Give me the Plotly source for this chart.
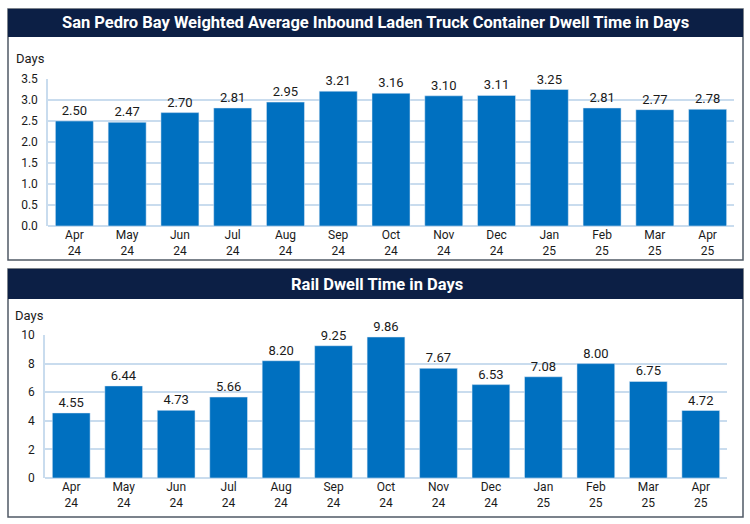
import plotly.graph_objects as go

months = ["Apr<br>24", "May<br>24", "Jun<br>24", "Jul<br>24", "Aug<br>24", "Sep<br>24",
          "Oct<br>24", "Nov<br>24", "Dec<br>24", "Jan<br>25", "Feb<br>25", "Mar<br>25", "Apr<br>25"]
truck_dwell = [2.50, 2.47, 2.70, 2.81, 2.95, 3.21, 3.16, 3.10, 3.11, 3.25, 2.81, 2.77, 2.78]
rail_dwell = [4.55, 6.44, 4.73, 5.66, 8.20, 9.25, 9.86, 7.67, 6.53, 7.08, 8.00, 6.75, 4.72]
truck_title = "San Pedro Bay Weighted Average Inbound Laden Truck Container Dwell Time in Days"
rail_title = "Rail Dwell Time in Days"
y_label = "Days"

W, H = 750, 524
BLUE = "#0070c0"
NAVY = "#0c1f45"
GRID = "#c9dcee"
BORDER = "#505a66"
TXT = "#1a1a1a"
FONT = "Roboto"

def px(x):
    return x / W

def py(y):
    return 1 - y / H

fig = go.Figure()
fig.add_trace(go.Bar(x=months, y=truck_dwell, marker_color=BLUE, width=0.72,
                     text=[f"{v:.2f}" for v in truck_dwell], textposition="outside",
                     textfont=dict(family=FONT, size=13, color=TXT), cliponaxis=False,
                     xaxis="x", yaxis="y", showlegend=False))
fig.add_trace(go.Bar(x=months, y=rail_dwell, marker_color=BLUE, width=0.72,
                     text=[f"{v:.2f}" for v in rail_dwell], textposition="outside",
                     textfont=dict(family=FONT, size=13, color=TXT), cliponaxis=False,
                     xaxis="x2", yaxis="y2", showlegend=False))

tickfont = dict(family=FONT, size=12, color=TXT)
common_x = dict(showgrid=False, showline=False, ticks="", tickfont=tickfont, tickangle=0,
                automargin=False)
common_y = dict(showgrid=True, gridcolor=GRID, gridwidth=1.5, zeroline=True, zerolinecolor=GRID,
                zerolinewidth=1.5, showline=True, linecolor=GRID, linewidth=1.5, ticks="",
                tickfont=tickfont, ticklabelstandoff=6, automargin=False)

fig.update_layout(
    width=W, height=H, margin=dict(l=0, r=0, t=0, b=0),
    paper_bgcolor="white", plot_bgcolor="white", bargap=0.28,
    xaxis=dict(domain=[px(48), px(734)], anchor="y", **common_x),
    yaxis=dict(domain=[py(226), py(79)], range=[0, 3.5], dtick=0.5, tickformat=".1f",
               anchor="x", **common_y),
    xaxis2=dict(domain=[px(45), px(727)], anchor="y2", **common_x),
    yaxis2=dict(domain=[py(478), py(335)], range=[0, 10], dtick=2, anchor="x2", **common_y),
)

shapes = []
# panel boxes
for top, bottom, htop, hbot in [(9, 260, 9, 37), (269, 517, 269, 299)]:
    shapes.append(dict(type="rect", xref="paper", yref="paper", x0=px(8), x1=px(743),
                       y0=py(bottom), y1=py(top), line=dict(color=BORDER, width=1.5),
                       fillcolor="white", layer="below"))
    shapes.append(dict(type="rect", xref="paper", yref="paper", x0=px(8), x1=px(743),
                       y0=py(hbot), y1=py(htop), line=dict(width=0), fillcolor=NAVY,
                       layer="above"))
fig.update_layout(shapes=shapes)

ann = []
ann.append(dict(text=f"<b>{truck_title}</b>", x=px(375), y=py(23), xref="paper", yref="paper",
                showarrow=False, font=dict(family=FONT, size=16.5, color="white", weight=900),
                xanchor="center", yanchor="middle"))
ann.append(dict(text=f"<b>{rail_title}</b>", x=px(377), y=py(284), xref="paper", yref="paper",
                showarrow=False, font=dict(family=FONT, size=16.5, color="white", weight=900),
                xanchor="center", yanchor="middle"))
ann.append(dict(text=y_label, x=px(30), y=py(58), xref="paper", yref="paper", showarrow=False,
                font=dict(family=FONT, size=13, color=TXT), xanchor="center", yanchor="middle"))
ann.append(dict(text=y_label, x=px(29), y=py(315), xref="paper", yref="paper", showarrow=False,
                font=dict(family=FONT, size=13, color=TXT), xanchor="center", yanchor="middle"))
fig.update_layout(annotations=ann)

fig.write_html("out.html")
